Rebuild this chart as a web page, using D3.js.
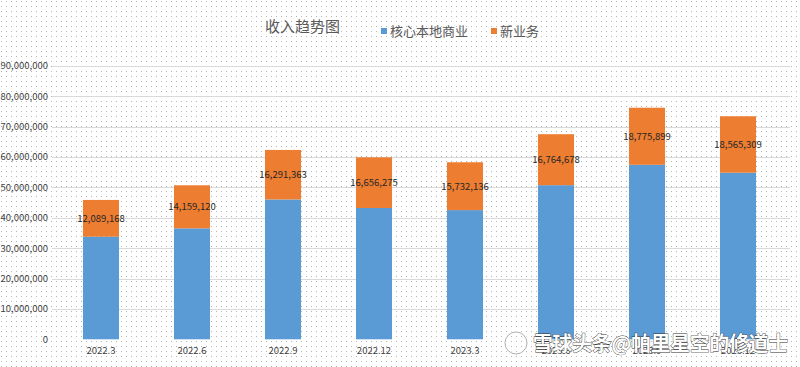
<!DOCTYPE html>
<html><head><meta charset="utf-8">
<script src="https://cdn.jsdelivr.net/npm/d3@7"></script>
<style>body{margin:0;background:#fff}svg{display:block}</style>
</head><body>
<svg id="c" width="800" height="367"></svg>
<script>
const categories = ["2022.3","2022.6","2022.9","2022.12","2023.3","2023.6","2023.9","2023.12"];
const coreValues = [33750000,36500000,46000000,43200000,42500000,50700000,57400000,54800000];
const newValues = [12089168,14159120,16291363,16656275,15732136,16764678,18775899,18565309];
const yTicks = [0,10000000,20000000,30000000,40000000,50000000,60000000,70000000,80000000,90000000];
const seriesNames = ["核心本地商业","新业务"];
const colors = ["#5B9BD5","#ED7D31"];

const svg = d3.select("#c");
const W = 800, H = 367;
const font = "'Noto Sans CJK SC','Microsoft YaHei',sans-serif";

const defs = svg.append("defs");
const pat = defs.append("pattern").attr("id","dots").attr("width",5).attr("height",5).attr("patternUnits","userSpaceOnUse");
pat.append("rect").attr("width",5).attr("height",5).attr("fill","#fff");
pat.append("rect").attr("x",1).attr("y",1).attr("width",1).attr("height",1).attr("fill","#b4b4b4");
svg.append("rect").attr("width",W).attr("height",H).attr("fill","url(#dots)");

const x = d3.scaleBand().domain(categories).range([55.5,783.5]).paddingInner(0.604).paddingOuter(0.302);
const y = d3.scaleLinear().domain([0,90000000]).range([339.3,65.7]);

// gridlines
svg.append("g").selectAll("line").data(yTicks.slice(1)).join("line")
  .attr("x1",52).attr("x2",790).attr("y1",d=>Math.round(y(d))+0.5).attr("y2",d=>Math.round(y(d))+0.5)
  .attr("stroke","#d9d9d9").attr("stroke-width",1);

// y axis labels
const yAxis = d3.axisLeft(y).tickValues(yTicks).tickSize(0).tickPadding(0).tickFormat(d3.format(","));
const gy = svg.append("g").attr("transform","translate(48,0)").call(yAxis);
gy.select(".domain").remove();
gy.selectAll("text").attr("font-family",font).attr("font-size",9.5).attr("fill","#404040");

// stacked bars
const data = categories.map((c,i)=>({cat:c, core:coreValues[i], nw:newValues[i]}));
const stack = d3.stack().keys(["core","nw"])(data);
svg.append("g").selectAll("g").data(stack).join("g").attr("fill",(d,i)=>colors[i])
  .selectAll("rect").data(d=>d).join("rect")
  .attr("x",d=>x(d.data.cat)).attr("width",x.bandwidth())
  .attr("y",d=>y(d[1])).attr("height",d=>y(d[0])-y(d[1]));

// data labels on new-business segment
svg.append("g").selectAll("text").data(stack[1]).join("text")
  .attr("x",d=>x(d.data.cat)+x.bandwidth()/2).attr("y",d=>(y(d[0])+y(d[1]))/2+3.5)
  .attr("text-anchor","middle").attr("font-family",font).attr("font-size",9.5).attr("fill","#262626")
  .text(d=>d3.format(",")(d.data.nw));

// x axis labels
const xAxis = d3.axisBottom(x).tickSize(0).tickPadding(0);
const gx = svg.append("g").attr("transform","translate(0,347)").call(xAxis);
gx.select(".domain").remove();
gx.selectAll("text").attr("font-family",font).attr("font-size",9.5).attr("fill","#404040");

// title
svg.append("text").attr("x",265).attr("y",32).attr("font-family",font).attr("font-size",15).attr("fill","#595959").text("收入趋势图");

// legend
const legX = [381,491];
seriesNames.forEach((n,i)=>{
  svg.append("rect").attr("x",legX[i]).attr("y",28).attr("width",6).attr("height",6).attr("fill",colors[i]);
  svg.append("text").attr("x",legX[i]+9).attr("y",36).attr("font-family",font).attr("font-size",13).attr("fill","#595959").text(n);
});

// watermark
const wm = svg.append("g");
wm.append("circle").attr("cx",516).attr("cy",343).attr("r",11).attr("fill","none").attr("stroke","#fff").attr("stroke-width",3);
wm.append("circle").attr("cx",516).attr("cy",343).attr("r",11).attr("fill","none").attr("stroke","#999").attr("stroke-width",0.8);
wm.append("text").attr("x",533).attr("y",351).attr("font-family",font).attr("font-size",20).attr("font-weight","bold")
  .attr("textLength",255).attr("lengthAdjust","spacingAndGlyphs")
  .attr("fill","#fff").attr("stroke","#333").attr("stroke-width",0.8).attr("paint-order","stroke")
  .text("雪球头条@帕里星空的修道士");
</script>
</body></html>
